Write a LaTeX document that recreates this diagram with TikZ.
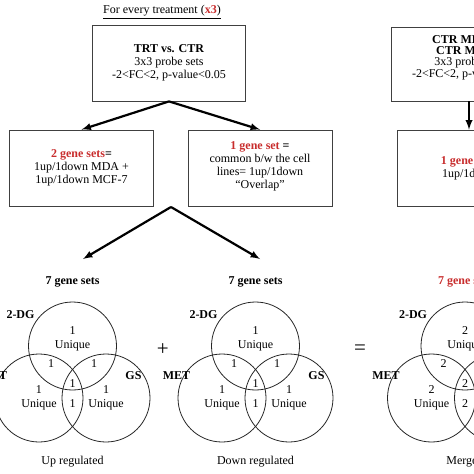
\documentclass[tikz,border=0pt]{standalone}
\usepackage{fontspec}
\setmainfont{Liberation Serif}
\usepackage{xcolor}
\usepackage{tikz}
\usetikzlibrary{arrows}
\definecolor{setred}{RGB}{200,45,45}

\begin{document}
\begin{tikzpicture}[x=1pt,y=-1pt,
    font=\fontsize{12}{13}\selectfont,
    box/.style={draw=black!75,line width=0.8pt,minimum width=144pt,minimum height=76pt,align=center,inner sep=0pt},
    arr/.style={line width=2.2pt,-latex},
    ring/.style={draw=black!85,line width=0.8pt,circle,minimum size=88pt,inner sep=0pt},
    setlbl/.style={font=\fontsize{12}{13}\selectfont\bfseries,inner sep=0pt},
    num/.style={inner sep=0pt,align=center,font=\fontsize{12}{13.5}\selectfont}]
    \useasboundingbox (0,0) rectangle (474,474);
    \node (title) at (162,12) {\underline{For every treatment (\textcolor{setred}{\textbf{x3}})}};
    \node[box,minimum width=153pt] (trt) at (169,63) {\textbf{TRT vs. CTR}\\3x3 probe sets\\-2<FC<2, p-value<0.05};
    \node[box,minimum width=156pt,minimum height=74pt] (ctrm) at (469,64) {};
    \node[align=center,inner sep=0pt,font=\fontsize{12}{10.8}\selectfont] (ctrmtext) at (469,58) {\textbf{CTR MDA vs.}\\\textbf{CTR MCF-7}\\3x3 probe sets\\-2<FC<2, p-value<0.05};
    \node[box] (gs2) at (81.5,168) {\textbf{\textcolor{setred}{2 gene sets}=}\\1up/1down MDA +\\1up/1down MCF-7};
    \node[box] (gs1) at (260,168) {};
    \node[align=center,inner sep=0pt] (gs1text) at (260,166) {\textbf{\textcolor{setred}{1 gene set} =}\\common b/w the cell\\lines= 1up/1down\\“Overlap”};
    \node[box] (gsm) at (469,168) {\textbf{\textcolor{setred}{1 gene set}=}\\1up/1down};
    \draw[arr] (trt.south) -- (gs2.north);
    \draw[arr] (trt.south) -- (gs1.north);
    \draw[arr] (ctrm.south) -- (gsm.north);
    \coordinate (split) at (171,207);
    \coordinate (upin) at (83,259);
    \coordinate (downin) at (260,259);
    \draw[arr] (split) -- (upin);
    \draw[arr] (split) -- (downin);
    % the three venn diagrams
    \foreach \nm/\cx/\n/\lbl/\tc in {up/72.5/1/Up regulated/black,down/255.5/1/Down regulated/black,merged/465/2/Merged/setred} {
      \node[setlbl,text=\tc] (\nm-title) at (\cx,282) {7 gene sets};
      \node[ring] (\nm-dg) at (\cx,346) {};
      \node[ring] (\nm-met) at (\cx-33.5,398) {};
      \node[ring] (\nm-gs) at (\cx+33.5,398) {};
      \node[setlbl] (\nm-dglbl) at (\cx-52,315) {2-DG};
      \node[setlbl] (\nm-metlbl) at (\cx-79,376) {MET};
      \node[setlbl] (\nm-gslbl) at (\cx+61,376) {GS};
      \node[num] (\nm-a) at (\cx,339) {\n\\Unique};
      \node[num] (\nm-b) at (\cx-33.5,398) {\n\\Unique};
      \node[num] (\nm-c) at (\cx+33.5,398) {\n\\Unique};
      \node[num] (\nm-ab) at (\cx-21.5,364) {\n};
      \node[num] (\nm-ac) at (\cx+21.5,364) {\n};
      \node[num] (\nm-abc) at (\cx,384) {\n};
      \node[num] (\nm-bc) at (\cx,404) {\n};
      \node (\nm-lbl) at (\cx,461.5) {\lbl};
    }
    \node[font=\fontsize{21}{21}\selectfont] (plus) at (162.7,350) {+};
    \node[font=\fontsize{21}{21}\selectfont] (equals) at (360,350) {=};
\end{tikzpicture}
\end{document}
